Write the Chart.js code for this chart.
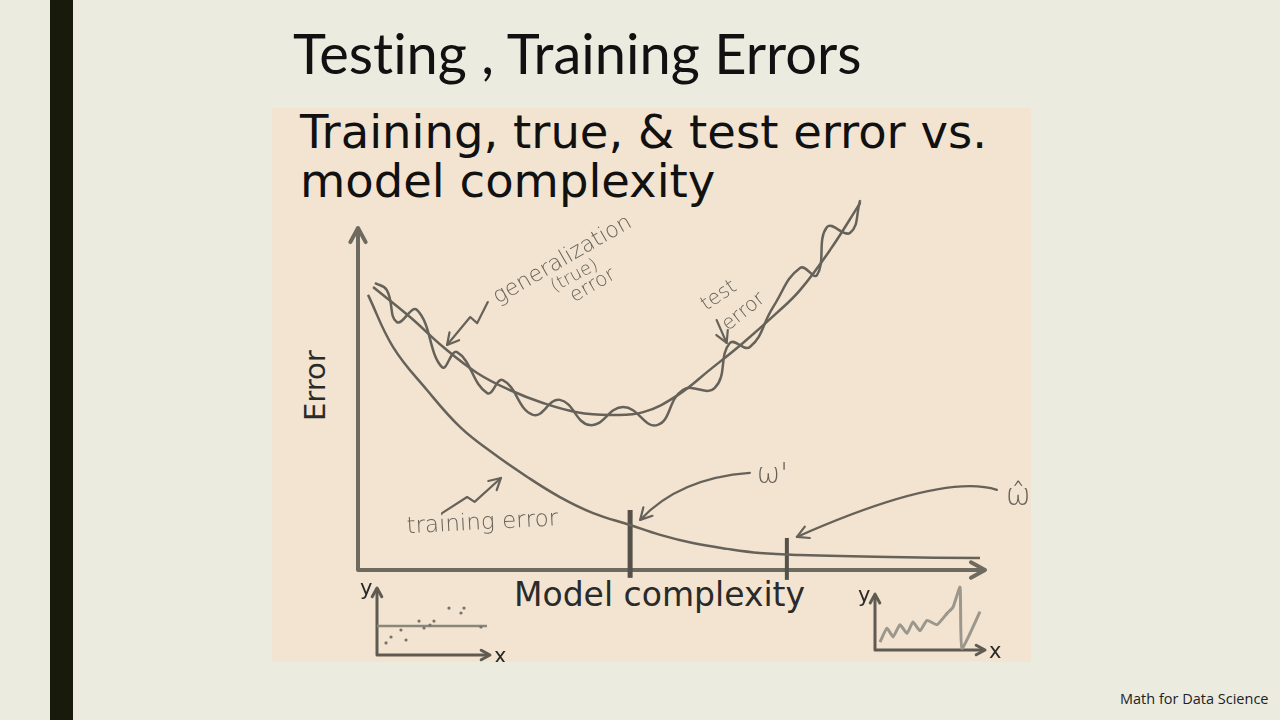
<!DOCTYPE html>
<html>
<head>
<meta charset="utf-8">
<script src="https://cdn.jsdelivr.net/npm/chart.js@4/dist/chart.umd.min.js"></script>
<style>
  html, body { margin: 0; padding: 0; }
  body { width: 1280px; height: 720px; background: #ebebdf; position: relative; overflow: hidden; }
  #bar { position: absolute; left: 50px; top: 0; width: 23px; height: 720px; background: #181a0c; }
  #slideTitle { position: absolute; left: 293px; top: 19px; font: 400 56px Lato, sans-serif; line-height: 1.2; color: #111; white-space: nowrap; font-variant-ligatures: none; }
  #panel { position: absolute; left: 272px; top: 108px; width: 759px; height: 554px; background: #f2e4d0; overflow: hidden; }
  #panel canvas { position: absolute; }
  .ptitle { position: absolute; left: 28px; font: 400 46.5px "DejaVu Sans", sans-serif; color: #111; white-space: nowrap; }
  #yLabel { position: absolute; left: 29px; top: 313px; font: 400 29px "DejaVu Sans", sans-serif; line-height: 1; color: #2a2a2a; transform: rotate(-90deg); transform-origin: left top; white-space: nowrap; }
  #xLabel { position: absolute; left: 242px; top: 467px; font: 400 33px "DejaVu Sans", sans-serif; color: #2a2a2a; white-space: nowrap; }
  #footer { position: absolute; left: 1120px; top: 689px; font: 400 14.5px "Open Sans", sans-serif; color: #222; white-space: nowrap; }
</style>
</head>
<body>
<div id="bar"></div>
<div id="slideTitle">Testing , Training Errors</div>
<div id="panel">
  <div class="ptitle" style="top:-3px">Training, true, &amp; test error vs.</div>
  <div class="ptitle" style="top:46px">model complexity</div>
  <div id="yLabel">Error</div>
  <div id="xLabel">Model complexity</div>
  <canvas id="mainChart" width="759" height="554" style="left:0;top:0"></canvas>
  <canvas id="leftInset" width="150" height="90" style="left:88px;top:467px"></canvas>
  <canvas id="rightInset" width="160" height="95" style="left:583px;top:457px"></canvas>
</div>
<div id="footer">Math for Data Science</div>

<script>
// model complexity vs error
const trainX = [0.16, 0.56, 1.10, 1.63, 2.15, 2.70, 3.22, 3.75, 4.34, 4.82, 5.34, 5.89, 6.41, 7.05, 8.48, 9.92];
const trainY = [8.07, 6.54, 5.28, 4.19, 3.43, 2.73, 2.14, 1.67, 1.32, 1.03, 0.79, 0.62, 0.50, 0.44, 0.38, 0.35];

const trueX = [0.24, 0.83, 1.36, 1.90, 2.42, 2.95, 3.49, 4.02, 4.55, 5.10, 5.61, 6.14, 6.68, 7.05, 7.53, 8.01];
const trueY = [8.30, 7.42, 6.54, 5.78, 5.28, 4.90, 4.63, 4.55, 4.63, 5.13, 5.87, 6.66, 7.54, 8.21, 9.39, 10.77];

const testX = [0.27, 0.46, 0.62, 0.94, 1.34, 1.58, 2.06, 2.31, 2.79, 3.22, 3.70, 4.23, 4.77, 5.18, 5.69, 5.93,
               6.25, 6.62, 7.05, 7.32, 7.48, 7.85, 8.01];
const testY = [8.42, 8.21, 7.27, 7.63, 5.95, 6.39, 5.19, 5.57, 4.55, 4.99, 4.25, 4.78, 4.25, 5.28, 5.34, 6.66,
               6.54, 7.71, 8.86, 8.65, 10.06, 9.89, 10.85];

// chosen models marked on the complexity axis
const markerX = [4.34, 6.84];
const markerTop = [1.76, 0.94];
const markerBottom = [-0.23, -0.29];
const markerWidth = [5, 4];

// small inset: simple fit (dots + flat line)
const simpleDotsX = [0.8, 1.24, 2.12, 2.57, 3.72, 4.16, 4.69, 5.04, 6.37, 7.43, 7.70, 9.20];
const simpleDotsY = [1.8, 2.69, 3.73, 2.24, 5.07, 4.03, 4.48, 5.07, 7.01, 6.27, 7.01, 4.18];
const simpleFitX = [0, 9.73];
const simpleFitY = [4.33, 4.33];

// small inset: overfit wiggle
const overfitX = [0.45, 1.09, 1.64, 2.27, 2.91, 3.45, 4.09, 4.73, 5.64, 6.55, 7.09, 7.73, 7.9, 9.55];
const overfitY = [1.41, 3.91, 2.34, 4.53, 2.97, 5.0, 3.44, 5.31, 4.53, 6.56, 7.66, 11.25, 0.3, 6.88];

// hand-written notes and arrows, in data units of the main chart
const notes = [
  { text: 'generalization', x: 2.23, y: 7.80, angle: -30, size: 22 },
  { text: '(true)', x: 3.13, y: 8.15, angle: -28, size: 18 },
  { text: 'error', x: 3.45, y: 7.85, angle: -30, size: 20 },
  { text: 'test', x: 5.55, y: 7.60, angle: -34, size: 20 },
  { text: 'error', x: 5.90, y: 7.00, angle: -39, size: 20 },
  { text: 'training error', x: 0.78, y: 1.08, angle: -3, size: 23 },
  { text: "\u03C9'", x: 6.36, y: 2.55, angle: 0, size: 28 },
  { text: '\u03C9\u0302', x: 10.33, y: 1.91, angle: 0, size: 30 }
];
const arrows = [
  { pts: [[2.07, 7.86], [1.90, 7.24], [1.79, 7.42], [1.42, 6.60]], curved: false },
  { pts: [[5.72, 7.33], [5.88, 6.66]], curved: false },
  { pts: [[1.34, 1.67], [1.74, 2.14], [1.86, 2.00], [2.28, 2.70]], curved: false },
  { pts: [[6.25, 2.85], [5.25, 2.43], [4.50, 1.47]], curved: true },
  { pts: [[10.19, 2.35], [8.96, 2.26], [7.00, 0.97]], curved: true }
];

const ink = '#66625a';

function toPoints(xs, ys) {
  return xs.map((x, i) => ({ x: x, y: ys[i] }));
}

function arrowHead(ctx, x1, y1, x2, y2, len) {
  const a = Math.atan2(y2 - y1, x2 - x1);
  ctx.beginPath();
  ctx.moveTo(x2 - len * Math.cos(a - 0.5), y2 - len * Math.sin(a - 0.5));
  ctx.lineTo(x2, y2);
  ctx.lineTo(x2 - len * Math.cos(a + 0.5), y2 - len * Math.sin(a + 0.5));
  ctx.stroke();
}

// axes with arrow tips, drawn from the scales
const arrowAxes = {
  id: 'arrowAxes',
  beforeDatasetsDraw(chart, args, opts) {
    const { ctx, scales } = chart;
    const ox = scales.x.getPixelForValue(0), oy = scales.y.getPixelForValue(0);
    const tx = scales.x.getPixelForValue(opts.xTo), ty = scales.y.getPixelForValue(opts.yTo);
    ctx.save();
    ctx.strokeStyle = opts.color;
    ctx.lineWidth = opts.width;
    ctx.lineCap = 'round';
    ctx.lineJoin = 'round';
    ctx.beginPath();
    ctx.moveTo(ox, ty + 2);
    ctx.lineTo(ox, oy);
    ctx.lineTo(tx - 2, oy);
    ctx.stroke();
    arrowHead(ctx, ox, oy, ox, ty, opts.head);
    arrowHead(ctx, ox, oy, tx, oy, opts.head);
    if (opts.labels) {
      ctx.fillStyle = '#2a2a2a';
      ctx.font = opts.labelFont;
      ctx.textBaseline = 'middle';
      ctx.fillText('y', ox - 17, ty + 2);
      ctx.fillText('x', tx + 4, oy + 3);
    }
    ctx.restore();
  }
};

const sketchNotes = {
  id: 'sketchNotes',
  afterDatasetsDraw(chart, args, opts) {
    if (!opts.enabled) return;
    const { ctx, scales } = chart;
    const px = v => scales.x.getPixelForValue(v);
    const py = v => scales.y.getPixelForValue(v);
    ctx.save();
    ctx.strokeStyle = ink;
    ctx.fillStyle = ink;
    ctx.lineWidth = 2.2;
    ctx.lineCap = 'round';
    ctx.lineJoin = 'round';
    arrows.forEach(a => {
      const p = a.pts.map(q => [px(q[0]), py(q[1])]);
      ctx.beginPath();
      ctx.moveTo(p[0][0], p[0][1]);
      let before;
      if (a.curved) {
        const cx = 2 * p[1][0] - (p[0][0] + p[2][0]) / 2;
        const cy = 2 * p[1][1] - (p[0][1] + p[2][1]) / 2;
        ctx.quadraticCurveTo(cx, cy, p[2][0], p[2][1]);
        before = [cx, cy];
      } else {
        for (let i = 1; i < p.length; i++) ctx.lineTo(p[i][0], p[i][1]);
        before = p[p.length - 2];
      }
      ctx.stroke();
      const end = p[p.length - 1];
      arrowHead(ctx, before[0], before[1], end[0], end[1], 13);
    });
    notes.forEach(n => {
      ctx.save();
      ctx.translate(px(n.x), py(n.y));
      ctx.rotate(n.angle * Math.PI / 180);
      ctx.font = '200 ' + n.size + 'px "DejaVu Sans", sans-serif';
      ctx.textBaseline = 'alphabetic';
      ctx.fillText(n.text, 0, 0);
      ctx.restore();
    });
    ctx.restore();
  }
};

const curveStyle = { showLine: true, pointRadius: 0, borderColor: ink, borderWidth: 2.5, tension: 0.4, fill: false };

const markerSets = markerX.map((x, i) => ({
  data: [{ x: x, y: markerBottom[i] }, { x: x, y: markerTop[i] }],
  showLine: true, pointRadius: 0, borderColor: '#55514a', borderWidth: markerWidth[i], clip: false
}));

new Chart(document.getElementById('mainChart'), {
  type: 'scatter',
  data: {
    datasets: [
      Object.assign({ label: 'Training error', data: toPoints(trainX, trainY) }, curveStyle),
      Object.assign({ label: 'True error', data: toPoints(trueX, trueY) }, curveStyle),
      Object.assign({ label: 'Test error', data: toPoints(testX, testY) }, curveStyle, { tension: 0.45, clip: false }),
      ...markerSets
    ]
  },
  options: {
    responsive: false,
    animation: false,
    layout: { padding: { left: 86, right: 46, top: 87, bottom: 92 } },
    scales: {
      x: { type: 'linear', min: 0, max: 10, display: false },
      y: { type: 'linear', min: 0, max: 11, display: false }
    },
    plugins: {
      legend: { display: false },
      tooltip: { enabled: false },
      arrowAxes: { color: '#6e6a60', width: 4, xTo: 10, yTo: 10.03, head: 16 },
      sketchNotes: { enabled: true }
    }
  },
  plugins: [arrowAxes, sketchNotes]
});

new Chart(document.getElementById('leftInset'), {
  type: 'scatter',
  data: {
    datasets: [
      { data: toPoints(simpleDotsX, simpleDotsY), pointRadius: 1.6, pointBackgroundColor: '#77736a', pointBorderWidth: 0 },
      { data: toPoints(simpleFitX, simpleFitY), showLine: true, pointRadius: 0, borderColor: '#8a867c', borderWidth: 2.5 }
    ]
  },
  options: {
    responsive: false,
    animation: false,
    layout: { padding: { left: 17, right: 20, top: 13, bottom: 10 } },
    scales: {
      x: { type: 'linear', min: 0, max: 10, display: false },
      y: { type: 'linear', min: 0, max: 10, display: false }
    },
    plugins: {
      legend: { display: false },
      tooltip: { enabled: false },
      arrowAxes: { color: '#5f5b53', width: 3, xTo: 10, yTo: 10, head: 10, labels: true, labelFont: '400 21px "DejaVu Sans", sans-serif' }
    }
  },
  plugins: [arrowAxes]
});

new Chart(document.getElementById('rightInset'), {
  type: 'scatter',
  data: {
    datasets: [
      { data: toPoints(overfitX, overfitY), showLine: true, pointRadius: 0, borderColor: '#9c978c', borderWidth: 3, tension: 0.15, clip: false }
    ]
  },
  options: {
    responsive: false,
    animation: false,
    layout: { padding: { left: 20, right: 30, top: 18, bottom: 10 } },
    scales: {
      x: { type: 'linear', min: 0, max: 10, display: false },
      y: { type: 'linear', min: 0, max: 12, display: false }
    },
    plugins: {
      legend: { display: false },
      tooltip: { enabled: false },
      arrowAxes: { color: '#5f5b53', width: 3, xTo: 10, yTo: 10, head: 10, labels: true, labelFont: '400 21px "DejaVu Sans", sans-serif' }
    }
  },
  plugins: [arrowAxes]
});
</script>
</body>
</html>
